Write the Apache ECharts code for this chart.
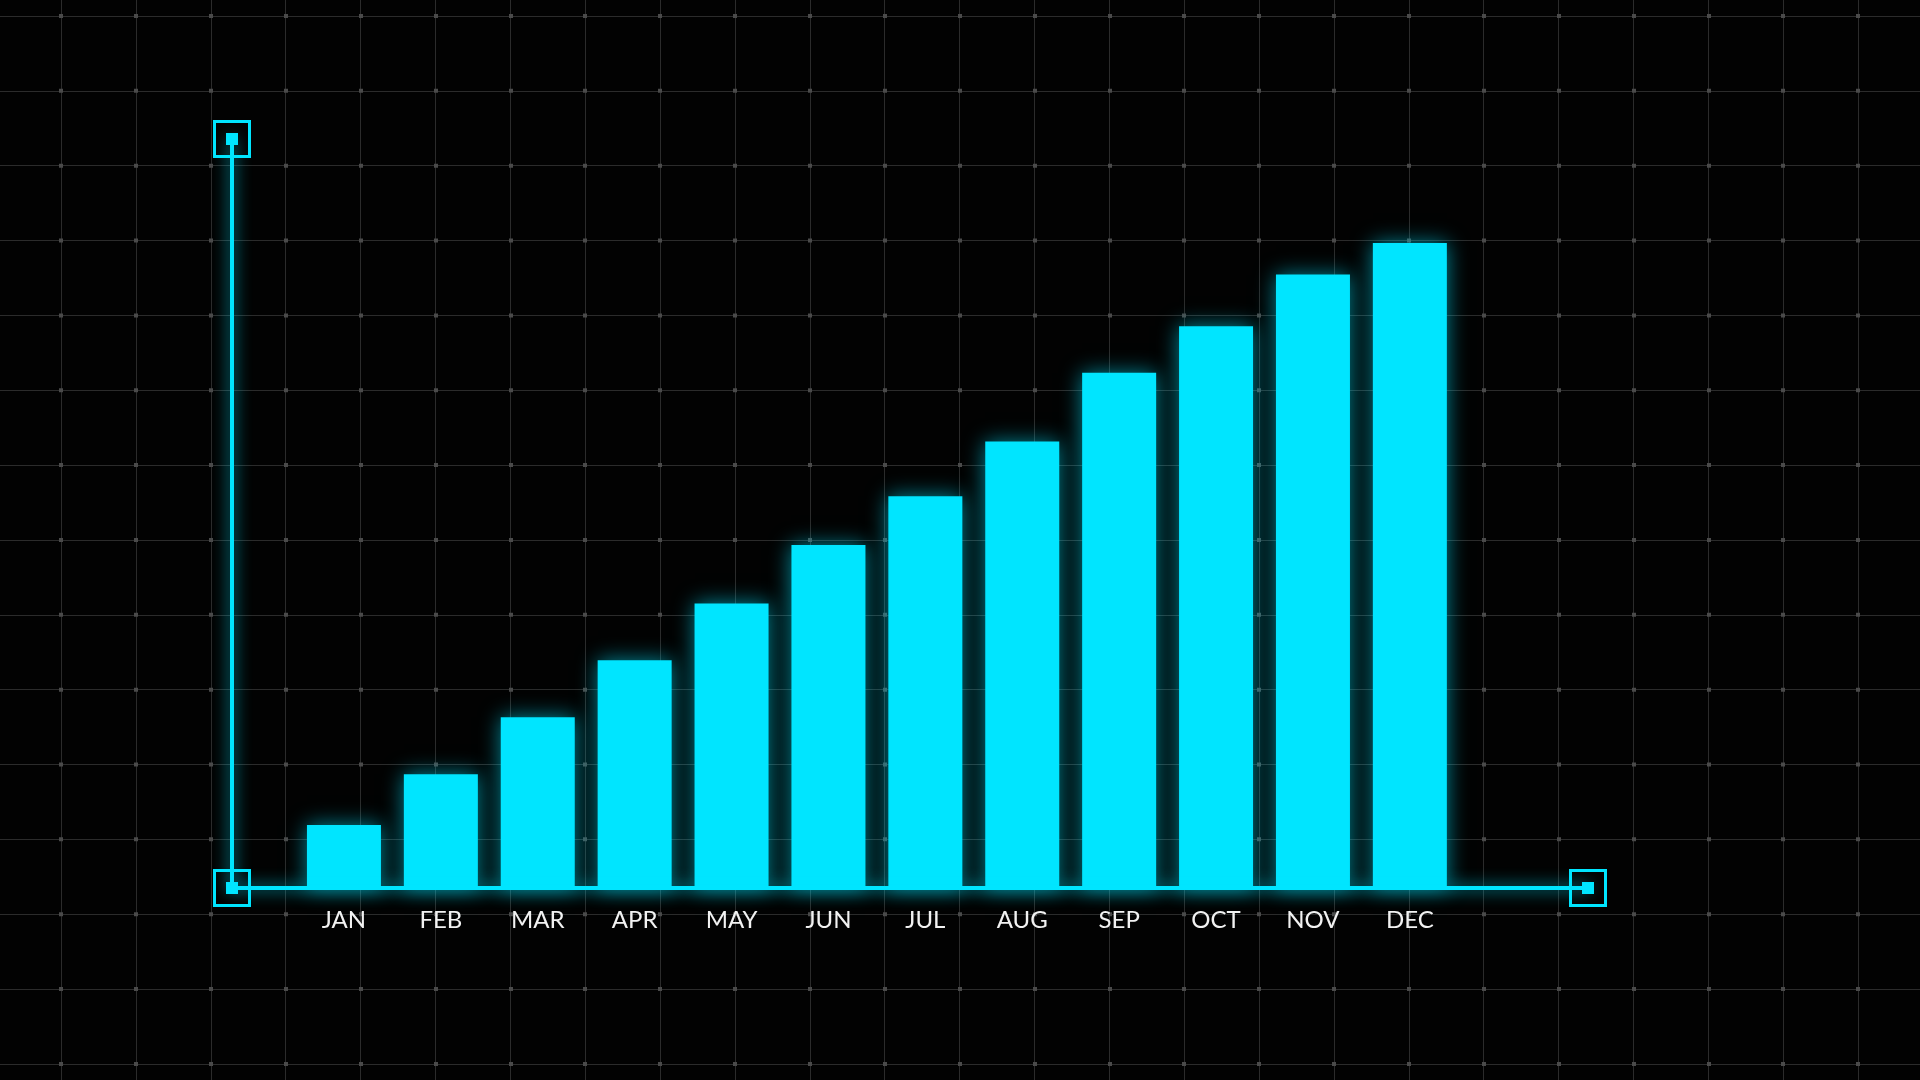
<!DOCTYPE html>
<html>
<head>
<meta charset="utf-8">
<script src="https://cdn.jsdelivr.net/npm/echarts@6/dist/echarts.min.js"></script>
<style>
  html, body { margin: 0; padding: 0; background: #020202; }
  #main { width: 1920px; height: 1080px; }
</style>
</head>
<body>
<div id="main"></div>
<script>
var months = ['JAN', 'FEB', 'MAR', 'APR', 'MAY', 'JUN', 'JUL', 'AUG', 'SEP', 'OCT', 'NOV', 'DEC'];
var values = [8.4, 15.2, 22.8, 30.4, 38.0, 45.8, 52.3, 59.6, 68.8, 75.0, 81.9, 86.1];
var valueMax = 100;

// background mesh
var meshStep = 75;
var meshCols = 24;
var meshRows = 14;

var neon = '#00e5ff';
var meshColor = '#2b2b2b';
var dotColor = '#4a4a4a';
// hollow square with a filled core, used as axis end caps
var boxSymbol = 'path://M0,0H38V38H0Z M3,3V35H35V3Z M13,13H25V25H13Z';

var chart = echarts.init(document.getElementById('main'), null, { width: 1920, height: 1080 });

var hidden = { show: false };

var option = {
  backgroundColor: '#020202',
  animation: false,
  grid: [
    { left: 61, right: 62, top: 0, bottom: 0 },      // vertical mesh lines
    { left: 0, right: 0, top: 16, bottom: 16 },      // horizontal mesh lines
    { left: 61, right: 62, top: 14, bottom: 0 },     // mesh dots
    { left: 232, right: 332, top: 139, bottom: 192 },// axis frame
    { left: 295.5, right: 461.7, top: 139, bottom: 192 } // bars
  ],
  xAxis: [
    {
      gridIndex: 0, type: 'value', min: 0, max: meshCols * meshStep, interval: meshStep,
      axisLine: hidden, axisTick: hidden, axisLabel: hidden,
      splitLine: { show: true, lineStyle: { color: meshColor, width: 1 } }
    },
    { gridIndex: 1, type: 'value', show: false },
    {
      gridIndex: 2, type: 'value', min: 0, max: meshCols * meshStep, interval: meshStep,
      axisLine: hidden, axisTick: hidden, axisLabel: hidden,
      splitLine: { show: true, lineStyle: { color: dotColor, width: 4, type: [4, 70.85] } }
    },
    {
      gridIndex: 3, type: 'value', min: 0, max: 1, z: 10,
      axisLine: {
        show: true,
        symbol: ['none', boxSymbol],
        symbolSize: [38, 38],
        lineStyle: { color: neon, width: 4, shadowBlur: 16, shadowColor: neon }
      },
      axisTick: hidden, axisLabel: hidden, splitLine: hidden
    },
    {
      gridIndex: 4, type: 'category', data: months,
      axisLine: hidden, axisTick: hidden,
      axisLabel: { color: '#f2f2f2', fontFamily: 'Lato', fontSize: 24, margin: 20 }
    }
  ],
  yAxis: [
    { gridIndex: 0, type: 'value', show: false },
    {
      gridIndex: 1, type: 'value', min: 0, max: meshRows * meshStep, interval: meshStep,
      axisLine: hidden, axisTick: hidden, axisLabel: hidden,
      splitLine: { show: true, lineStyle: { color: meshColor, width: 1 } }
    },
    { gridIndex: 2, type: 'value', show: false },
    {
      gridIndex: 3, type: 'value', min: 0, max: 1, z: 10,
      axisLine: {
        show: true,
        symbol: [boxSymbol, boxSymbol],
        symbolSize: [38, 38],
        lineStyle: { color: neon, width: 4, shadowBlur: 16, shadowColor: neon }
      },
      axisTick: hidden, axisLabel: hidden, splitLine: hidden
    },
    { gridIndex: 4, type: 'value', min: 0, max: valueMax, show: false }
  ],
  series: [
    {
      type: 'bar',
      xAxisIndex: 4,
      yAxisIndex: 4,
      barWidth: 74,
      silent: true,
      data: values,
      itemStyle: {
        color: neon,
        shadowBlur: 20,
        shadowColor: 'rgba(0, 229, 255, 0.6)'
      }
    }
  ]
};

chart.setOption(option);
</script>
</body>
</html>
